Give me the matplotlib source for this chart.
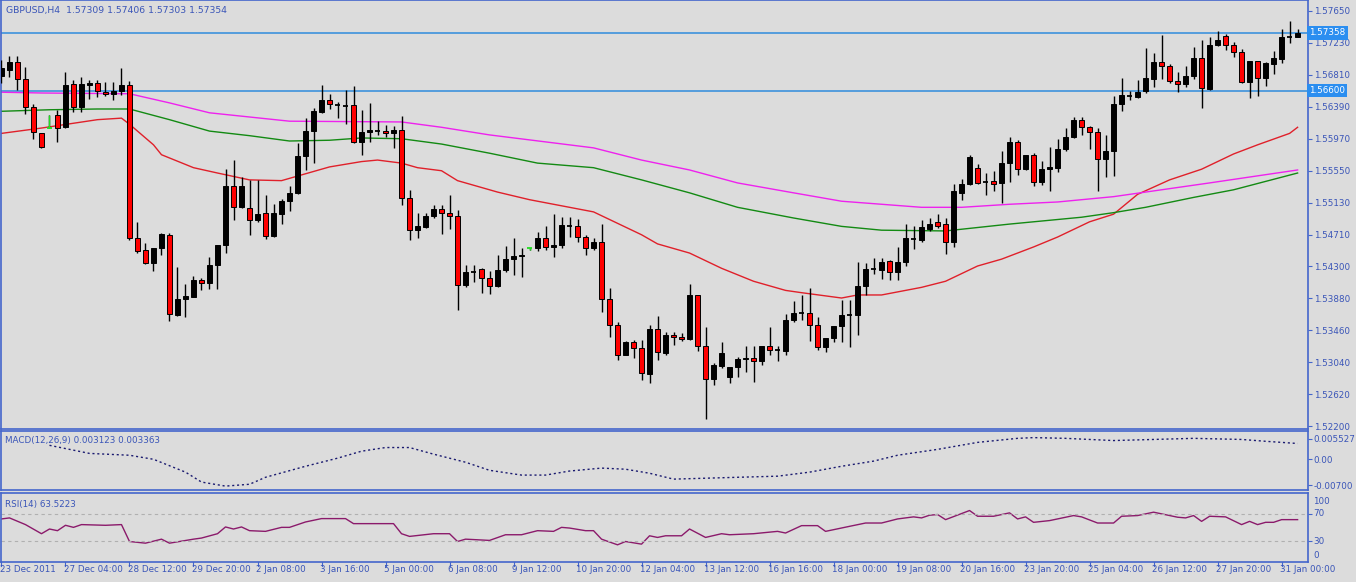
import matplotlib
matplotlib.use("Agg")
import matplotlib.pyplot as plt
import matplotlib.transforms as mtransforms
import numpy as np

# Candle data, in 0.0001 units above 1.5000
opens = [679,687,698,675,639,604,611,628,612,669,
 639,667,670,658,656,660,667,467,451,434,
 454,471,366,387,389,412,408,431,458,535,
 507,506,490,500,469,498,515,526,574,607,
 632,648,641,640,641,593,606,607,607,604,
 608,519,477,481,496,505,500,496,405,422,
 426,414,404,425,439,443,454,454,467,455,
 458,482,482,468,454,461,387,353,313,330,
 322,288,347,316,340,337,334,392,325,282,
 299,284,297,308,309,305,325,320,318,359,
 368,368,353,324,336,351,366,366,404,426,
 425,437,422,435,465,464,479,488,485,461,
 526,538,559,540,542,539,565,593,557,576,
 540,557,559,584,599,622,612,606,570,581,
 643,653,652,660,675,698,692,673,669,679,
 703,662,720,732,720,711,671,699,677,695,
 702,730,730.9]
closes = [690,698,675,639,606,586,611,611,667,639,
 669,670,660,656,660,667,467,450,434,454,
 472,367,387,391,412,408,431,458,535,507,
 535,490,498,469,500,515,526,574,607,633,
 648,643,641,640,593,606,608,607,604,608,
 519,477,482,496,505,500,496,405,422,422,
 414,404,425,439,443,444,454,467,455,458,
 484,482,468,454,461,387,353,313,330,322,
 290,347,317,340,337,334,392,325,282,300,
 316,297,308,309,305,325,320,320,359,368,
 368,353,324,336,351,366,366,404,426,426,
 435,422,435,467,465,481,485,482,461,528,
 538,573,539,540,538,565,593,557,576,540,
 557,560,584,599,622,612,606,570,581,643,
 654,653,658,677,698,692,673,669,679,703,
 664,720,727,720,711,671,699,677,696,703,
 730,730,735.4]
highs = [700,706,706,691,643,604,628,635,685,674,
 678,674,674,671,671,690,673,488,460,454,
 473,473,429,406,417,414,442,458,557,569,
 547,543,543,523,511,518,535,591,624,637,
 667,656,645,661,666,635,644,620,615,614,
 627,530,500,500,510,510,523,503,431,431,
 427,423,444,456,467,454,454,475,482,498,
 494,494,492,471,467,485,401,357,332,333,
 333,353,364,343,343,342,406,392,350,303,
 330,297,311,325,325,325,350,325,367,384,
 392,401,363,336,351,385,385,435,434,440,
 440,438,455,485,482,490,493,498,493,538,
 544,576,564,552,555,581,599,595,576,578,
 568,586,597,611,625,625,614,611,602,653,
 677,660,674,716,709,733,695,685,692,717,
 727,730,738,734,724,715,699,699,698,712,
 741,751,740.6]
lows = [670,678,661,629,597,585,611,593,611,632,
 632,649,652,653,648,654,464,447,433,423,
 444,358,364,363,389,398,400,400,447,490,
 506,471,488,465,468,485,502,524,556,565,
 631,636,624,616,591,576,593,602,599,585,
 510,464,467,480,493,472,479,372,402,409,
 395,393,402,422,418,416,451,450,451,442,
 454,468,461,444,451,370,337,307,313,309,
 280,276,307,313,326,332,333,318,229,274,
 296,276,284,291,278,300,313,305,313,357,
 359,332,320,317,330,330,324,340,392,419,
 413,412,412,430,452,461,476,480,446,455,
 517,536,538,523,528,513,540,549,556,535,
 536,528,553,581,598,602,584,528,547,548,
 633,648,650,657,665,675,670,658,665,675,
 637,661,719,713,704,670,650,653,666,682,
 696,723,730.3]
green_doji = [6, 66]

# Moving averages (read at sample candles), same units
red_idx = [0,5,12,15,16,19,20,24,27,31,35,37,41,45,47,50,52,55,57,62,66,71,74,80,82,86,90,94,98,100,105,107,110,112,115,118,122,125,129,132,136,139,142,146,150,154,157,161,162]
red_val = [604,611,622,624,616,589,576,559,552,543,542,548,560,567,569,565,559,555,542,527,517,507,501,471,459,447,427,410,398,395,388,392,392,396,402,410,430,439,455,468,488,498,524,543,557,577,589,604,612]
green_idx = [0,6,12,16,21,26,31,36,41,45,50,55,61,67,74,80,86,92,99,105,110,118,126,135,139,143,149,154,162]
green_val = [633,635,636,636,622,607,601,594,595,598,597,590,578,565,559,543,526,507,493,482,477,476,485,494,500,507,520,530,552]
mag_idx = [0,5,16,21,26,36,50,55,61,74,80,86,92,99,105,110,115,120,126,132,139,145,151,162]
mag_val = [658,657,656,644,631,620,619,612,602,585,569,556,539,526,515,511,507,507,511,514,521,530,539,556]

macd_idx = [6,11,16,19,23,25,28,31,33,38,42,45,48,51,54,58,61,65,68,71,75,78,81,84,92,97,101,105,109,112,117,122,127,129,133,139,144,149,155,158,162]
macd_val = [0.0038,0.0016,0.0011,0.0,-0.0035,-0.0062,-0.0073,-0.0068,-0.0049,-0.0019,0.0003,0.0022,0.0032,0.0032,0.0014,-0.0008,-0.0030,-0.0043,-0.0043,-0.0032,-0.0024,-0.0027,-0.0038,-0.0054,-0.0049,-0.0046,-0.0035,-0.0019,-0.0005,0.0011,0.0027,0.0046,0.0057,0.0059,0.0057,0.0051,0.0054,0.0057,0.0054,0.0049,0.0043]

rsi_idx = [0,1,3,5,6,7,8,9,10,13,15,16,18,20,21,24,25,27,28,29,30,31,33,35,36,38,40,43,44,49,50,51,54,56,57,58,61,63,65,67,69,70,71,73,74,75,77,78,80,81,82,83,85,86,88,90,91,94,97,98,100,102,103,106,108,110,112,114,115,116,117,118,120,121,122,124,126,127,128,129,131,134,135,137,139,140,142,144,147,148,149,150,151,153,155,156,157,158,159,160,162]
rsi_val = [62.4,63.9,54.2,41.0,47.8,45.4,53.2,50.2,54.2,53.2,54.2,29.7,27.3,33.1,27.3,33.1,34.7,41.0,50.8,47.8,50.8,45.4,44.4,50.2,50.2,58.0,62.9,62.9,55.6,55.6,41.0,37.1,41.0,41.0,29.7,33.1,31.3,39.5,39.5,45.4,44.4,50.2,49.2,45.4,45.4,33.1,24.9,29.7,25.9,38.0,35.6,38.0,38.0,47.8,35.6,41.0,39.5,41.0,44.4,42.0,52.7,52.7,44.4,51.7,56.5,56.5,62.4,65.4,63.9,67.8,68.8,61.4,70.2,74.6,66.3,66.3,71.2,62.4,65.4,57.5,60.0,67.3,65.4,56.5,56.5,66.3,67.3,72.2,64.9,63.9,67.3,58.9,66.3,65.4,54.2,58.9,54.2,57.5,57.5,61.4,61.4]

price_ticks = [1.57650,1.57230,1.56810,1.56390,1.55970,1.55550,1.55130,1.54710,1.54300,1.53880,1.53460,1.53040,1.52620,1.52200]
hlines = [1.57358, 1.56600]
time_labels = ["23 Dec 2011","27 Dec 04:00","28 Dec 12:00","29 Dec 20:00","2 Jan 08:00","3 Jan 16:00",
               "5 Jan 00:00","6 Jan 08:00","9 Jan 12:00","10 Jan 20:00","12 Jan 04:00","13 Jan 12:00",
               "16 Jan 16:00","18 Jan 00:00","19 Jan 08:00","20 Jan 16:00","23 Jan 20:00","25 Jan 04:00",
               "26 Jan 12:00","27 Jan 20:00","31 Jan 00:00"]

BASE = 1.5
def px(v):
    return BASE + np.asarray(v, dtype=float) / 10000.0

O, C, H, L = px(opens), px(closes), px(highs), px(lows)
n = len(O)

BG = "#dcdcdc"
BORDER = "#4466cc"
TXT = "#3a55b8"
FS = 6.3
W, Hh = 1356, 582
fig = plt.figure(figsize=(W/100, Hh/100), dpi=100, facecolor=BG)

def rect(x0, y0, x1, y1):
    return [x0/W, 1 - y1/Hh, (x1-x0)/W, (y1-y0)/Hh]

XL = (-0.06, 163.3)
ax = fig.add_axes(rect(1, 0, 1308, 429))
am = fig.add_axes(rect(1, 431, 1308, 490))
ar = fig.add_axes(rect(1, 493, 1308, 562))
for a in (ax, am, ar):
    a.set_facecolor(BG)
    a.set_xlim(*XL)
    a.set_xticks([])
    for s in a.spines.values():
        s.set_color(BORDER)
        s.set_linewidth(1.2)
    a.yaxis.tick_right()
    a.tick_params(axis='y', colors=BORDER, labelcolor=TXT, labelsize=FS, length=3, width=0.8, pad=1)

# Main chart
ax.set_ylim(1.5779 - 0.0001312*429, 1.5779)
for y in hlines:
    ax.axhline(y, color="#3d92dd", lw=1.2, zorder=1)
ax.plot(red_idx, px(red_val), color="#e0202a", lw=1.0, zorder=2)
ax.plot(green_idx, px(green_val), color="#138a13", lw=1.0, zorder=2)
ax.plot(mag_idx, px(mag_val), color="#ee22ee", lw=1.0, zorder=2)

bw = 0.62
for i in range(n):
    o, c = O[i], C[i]
    hi, lo = max(H[i], o, c), min(L[i], o, c)
    ax.vlines(i, lo, hi, color="black", lw=1.0, zorder=3)
    if abs(o - c) < 1e-6:
        col = "#22dd22" if i in green_doji else "black"
        ax.hlines(o, i - bw/2, i + bw/2, color=col, lw=1.3, zorder=4)
        if i in green_doji:
            ax.vlines(i, lo, hi, color=col, lw=1.0, zorder=4)
    else:
        face = "black" if c > o else "#ff0000"
        ax.bar(i, c - o, bottom=o, width=bw, color=face, edgecolor="black", lw=0.7, zorder=4)

ax.set_yticks(price_ticks)
ax.set_yticklabels([f"{t:.5f}" for t in price_ticks])
for y in hlines:
    ax.text(1.001, y, f"{y:.5f}", transform=mtransforms.blended_transform_factory(ax.transAxes, ax.transData),
            ha="left", va="center", fontsize=FS, color="white", zorder=10,
            bbox=dict(boxstyle="square,pad=0.25", fc="#2b8ef0", ec="none"))
ax.text(0.004, 0.975, "GBPUSD,H4  1.57309 1.57406 1.57303 1.57354", transform=ax.transAxes,
        fontsize=FS+0.4, color=TXT, va="center", ha="left")

# MACD
am.set_ylim(-0.00836, 0.0077)
am.plot(macd_idx, macd_val, color="#1a1a70", lw=1.0, linestyle=(0, (1.5, 2.0)))
am.set_yticks([0.005527, 0.0, -0.007])
am.set_yticklabels(["0.005527", "0.00", "-0.00700"])
am.text(0.003, 0.84, "MACD(12,26,9) 0.003123 0.003363", transform=am.transAxes, fontsize=FS, color=TXT, va="center")

# RSI
ar.set_ylim(0, 100)
ar.plot(rsi_idx, rsi_val, color="#8b1a6b", lw=1.0)
for lv in (70, 30):
    ar.axhline(lv, color="#b0b0b0", lw=0.8, linestyle=(0, (3, 3)))
ar.set_yticks([70, 30])
ar.set_yticklabels([])
tr = mtransforms.blended_transform_factory(ar.transAxes, ar.transData)
for v, pos in ((100, 88), (70, 70), (30, 30), (0, 10)):
    ar.text(1.004, pos, str(v), transform=tr, fontsize=FS, color=TXT, va="center", ha="left")
ar.text(0.003, 0.84, "RSI(14) 63.5223", transform=ar.transAxes, fontsize=FS, color=TXT, va="center")

# time labels
trx = mtransforms.blended_transform_factory(ar.transData, fig.transFigure)
for k, lab in enumerate(time_labels):
    xi = 8 * k
    fig.add_artist(plt.Line2D([xi, xi], [1 - 562/Hh, 1 - 566/Hh], transform=trx, color=BORDER, lw=0.8))
    fig.text(xi - 0.15, 1 - 569/Hh, lab, transform=trx, fontsize=FS, color=TXT, ha="left", va="center")

fig.savefig("out.png", dpi=100, facecolor=BG)
